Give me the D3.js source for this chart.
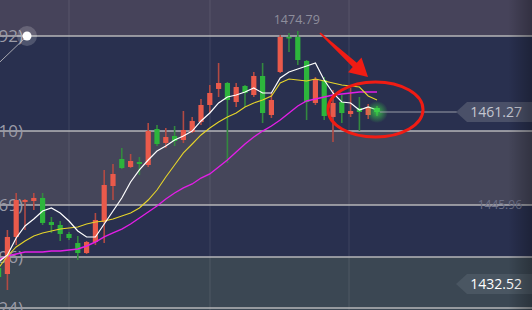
<!DOCTYPE html>
<html><head><meta charset="utf-8">
<script src="https://cdn.jsdelivr.net/npm/d3@7"></script>
<style>html,body{margin:0;padding:0;background:#29304f;overflow:hidden}svg{display:block}</style>
</head><body>
<svg id="c" width="532" height="310"></svg>
<script>
// ---- data (prices) ----
const opens  = [1435.19,1434.19,1440.38,1446.23,1446.39,1446.90,1442.88,1442.38,1440.88,1439.37,1437.70,1439.54,1442.88,1448.90,1453.41,1452.08,1452.91,1452.41,1458.43,1456.09,1457.26,1456.59,1457.93,1459.60,1462.44,1465.12,1466.12,1462.94,1465.62,1464.11,1467.29,1460.77,1467.96,1473.81,1473.81,1469.80,1462.78,1466.62,1460.43,1462.94,1460.94,1461.94,1460.77,1461.94];
const highs  = [1441.55,1441.55,1447.73,1446.73,1447.73,1447.73,1443.72,1443.05,1441.21,1440.54,1439.71,1444.39,1451.58,1452.58,1455.25,1454.25,1453.75,1459.43,1459.10,1458.60,1458.93,1461.44,1460.43,1463.44,1465.78,1469.46,1466.29,1466.12,1465.78,1467.96,1469.46,1464.45,1474.14,1474.48,1474.79,1469.96,1467.12,1467.12,1464.95,1464.11,1465.28,1463.78,1462.61,1462.27];
const lows   = [1432.35,1431.52,1439.04,1441.55,1444.89,1442.38,1441.05,1439.71,1439.88,1436.53,1437.53,1439.04,1439.37,1446.56,1451.74,1451.91,1450.74,1452.08,1455.59,1455.25,1455.59,1456.09,1457.76,1459.10,1461.10,1463.78,1452.75,1462.11,1462.11,1463.78,1459.43,1460.27,1467.79,1471.30,1469.13,1459.93,1462.44,1459.93,1456.26,1459.43,1460.43,1458.09,1460.10,1460.60];
const closes = [1433.69,1440.38,1446.56,1446.56,1446.90,1442.72,1442.38,1440.88,1440.21,1437.70,1439.54,1443.22,1449.07,1450.91,1451.91,1453.08,1452.58,1458.09,1455.92,1457.09,1456.42,1458.26,1459.77,1462.44,1464.45,1466.12,1463.28,1465.45,1464.45,1467.29,1461.10,1463.28,1473.81,1473.64,1469.96,1462.94,1466.79,1460.60,1462.78,1461.10,1461.44,1461.27,1462.11,1461.27];
const ma5  = [1436.20,1437.37,1440.21,1442.22,1443.39,1444.72,1445.22,1444.39,1443.05,1441.38,1440.38,1440.38,1442.55,1444.72,1446.90,1449.57,1451.58,1453.25,1454.75,1455.59,1456.59,1457.26,1458.09,1459.77,1461.10,1462.78,1463.78,1464.11,1464.61,1465.28,1464.45,1464.45,1466.95,1467.96,1468.46,1468.96,1469.46,1466.62,1464.45,1462.94,1462.78,1461.60,1462.11,1461.60];
const ma10 = [1435.20,1437.20,1438.71,1439.71,1440.54,1441.05,1441.38,1441.71,1441.88,1442.05,1442.55,1442.88,1443.05,1443.39,1443.89,1444.39,1445.22,1446.56,1448.23,1450.41,1452.41,1454.42,1455.92,1457.43,1458.60,1459.60,1460.43,1461.10,1462.11,1462.78,1463.28,1463.95,1466.12,1466.79,1466.62,1466.45,1466.79,1466.45,1466.12,1465.78,1465.62,1465.45,1463.95,1463.28];
const ma20 = [1436.53,1437.20,1437.53,1437.87,1437.87,1437.87,1438.04,1438.04,1438.20,1438.37,1438.87,1439.54,1440.38,1441.05,1441.71,1442.55,1443.55,1444.56,1445.56,1446.73,1447.73,1448.57,1449.24,1450.24,1450.91,1452.08,1453.25,1454.58,1455.92,1457.09,1458.09,1458.93,1459.93,1461.10,1462.27,1463.11,1463.44,1463.78,1464.11,1464.28,1464.45,1464.61,1464.61,1464.61];
const gridLevels = [1473.97, 1458.09, 1445.72, 1437.03, 1428.51];
const leftLabels = ["92)", "10)", "69)", "96)", "24)"];
const lastPrice = 1461.27, lowTag = 1432.52, midLabel = 1445.96, highLabel = 1474.79, highIndex = 34;
const vGridIdx = [8, 24.02, 39.82];

// ---- scales ----
const W = 532, H = 310;
const n = opens.length;
const x = d3.scaleLinear().domain([0, n - 1]).range([-1.4, 377]);
const y = d3.scaleLinear().domain([lowTag, lastPrice]).range([284, 112]);
const svg = d3.select("#c");
const defs = svg.append("defs");

// background bands
const bandColors = ["#46435a", "#29304f", "#45465a", "#29304f", "#3b4753"];
const edges = [-1e9, ...gridLevels];
bandColors.forEach((c, k) => {
  const top = k === 0 ? 0 : y(gridLevels[k - 1]);
  const bot = k < gridLevels.length ? y(gridLevels[k]) : H;
  svg.append("rect").attr("x", 0).attr("y", top).attr("width", W).attr("height", Math.max(0, (k === 4 ? H : bot) - top)).attr("fill", c);
});
svg.append("rect").attr("x", 0).attr("y", y(gridLevels[4])).attr("width", W).attr("height", H).attr("fill", "#3b4753");

// vertical grid
svg.selectAll(".vg").data(vGridIdx).enter().append("line")
  .attr("x1", d => x(d)).attr("x2", d => x(d)).attr("y1", 0).attr("y2", H)
  .attr("stroke", "rgba(255,255,255,0.10)").attr("stroke-width", 1);

// horizontal grid lines
svg.selectAll(".hg").data(gridLevels).enter().append("line")
  .attr("x1", 0).attr("x2", W).attr("y1", d => y(d)).attr("y2", d => y(d))
  .attr("stroke", "#b6b6b8").attr("stroke-width", 1.4);

// left labels
svg.selectAll(".ll").data(gridLevels).enter().append("text")
  .attr("x", 23).attr("y", d => y(d)).attr("dy", "0.36em").attr("text-anchor", "end")
  .attr("font-family", "Open Sans, DejaVu Sans, sans-serif").attr("font-size", 17)
  .attr("fill", "#9a9aa6").text((d, i) => leftLabels[i]);

// trend line tool + dot
svg.append("line").attr("x1", x(-0.98)).attr("y1", y(1468.04)).attr("x2", x(3.23)).attr("y2", y(1473.97))
  .attr("stroke", "#a8a8b0").attr("stroke-width", 1);
svg.append("circle").attr("cx", x(3.23)).attr("cy", y(1473.97)).attr("r", 10).attr("fill", "rgba(255,255,255,0.18)");
svg.append("circle").attr("cx", x(3.23)).attr("cy", y(1473.97)).attr("r", 4.5).attr("fill", "#ffffff");

// labels
svg.append("text").attr("x", x(highIndex) - 1).attr("y", y(highLabel) - 7).attr("text-anchor", "middle")
  .attr("font-family", "Open Sans, sans-serif").attr("font-size", 12.5).attr("fill", "#8e8e9c").text(highLabel.toFixed(2));
svg.append("text").attr("x", 522).attr("y", y(midLabel) + 1).attr("dy", "0.36em").attr("text-anchor", "end")
  .attr("font-family", "Open Sans, sans-serif").attr("font-size", 12).attr("fill", "#6c7088").text(midLabel.toFixed(2));

// candles
const idx = d3.range(n);
const up = i => closes[i] >= opens[i];
svg.selectAll(".wick").data(idx).enter().append("line")
  .attr("x1", i => x(i)).attr("x2", i => x(i))
  .attr("y1", i => y(highs[i])).attr("y2", i => y(lows[i]))
  .attr("stroke", i => up(i) ? "#b24a43" : "#33893f").attr("stroke-width", 1.6);
svg.selectAll(".body").data(idx).enter().append("rect")
  .attr("x", i => x(i) - 2.6).attr("width", 5.2)
  .attr("y", i => y(Math.max(opens[i], closes[i])))
  .attr("height", i => Math.max(1.5, Math.abs(y(opens[i]) - y(closes[i]))))
  .attr("fill", i => up(i) ? "#ea5a4b" : "#2db53c");

// MA lines
const line = arr => d3.line().x((d, i) => x(i)).y(d => y(d))(arr);
svg.append("path").attr("d", line(ma20)).attr("fill", "none").attr("stroke", "#e21ee6").attr("stroke-width", 1.4);
svg.append("path").attr("d", line(ma10)).attr("fill", "none").attr("stroke", "#e6d52a").attr("stroke-width", 1.1);
svg.append("path").attr("d", line(ma5)).attr("fill", "none").attr("stroke", "#ffffff").attr("stroke-width", 1.2);

// glow at last candle
const g = defs.append("radialGradient").attr("id", "glow");
g.append("stop").attr("offset", "0%").attr("stop-color", "rgba(60,230,70,0.75)");
g.append("stop").attr("offset", "100%").attr("stop-color", "rgba(60,230,70,0)");
svg.append("circle").attr("cx", x(n - 1)).attr("cy", y(closes[n - 1])).attr("r", 11).attr("fill", "url(#glow)");
svg.append("rect").attr("x", x(n - 1) - 2.6).attr("width", 5.2).attr("y", y(opens[n - 1])).attr("height", y(closes[n - 1]) - y(opens[n - 1])).attr("fill", "#3ad048");

// last price line
svg.append("line").attr("x1", x(n - 1) + 3).attr("x2", 457).attr("y1", y(lastPrice)).attr("y2", y(lastPrice))
  .attr("stroke", "#9a9ca8").attr("stroke-width", 1);

// price tags
function tag(price, fill, color) {
  const cy = y(price);
  svg.append("path").attr("d", `M${456},${cy} L${467},${cy - 10} L${W},${cy - 10} L${W},${cy + 10} L${467},${cy + 10} Z`).attr("fill", fill);
  svg.append("text").attr("x", 522).attr("y", cy).attr("dy", "0.36em").attr("text-anchor", "end")
    .attr("font-family", "Open Sans, sans-serif").attr("font-size", 14).attr("fill", color).text(price.toFixed(2));
}
tag(lastPrice, "#4a5068", "#c4c6d0");
tag(lowTag, "#4a5662", "#ffffff");

// right-edge vignette
const vg = defs.append("linearGradient").attr("id", "vig").attr("x1", "0").attr("x2", "1");
vg.append("stop").attr("offset", "0%").attr("stop-color", "rgba(0,0,0,0)");
vg.append("stop").attr("offset", "100%").attr("stop-color", "rgba(0,0,0,0.28)");
svg.append("rect").attr("x", 508).attr("y", 0).attr("width", 24).attr("height", H).attr("fill", "url(#vig)");

// annotations: red ellipse and arrow
const ell = { i: 42.83, p: 1461.69, rx: 47.5, ry: 27.5 };
svg.append("ellipse").attr("cx", x(ell.i)).attr("cy", y(ell.p)).attr("rx", ell.rx).attr("ry", ell.ry)
  .attr("fill", "none").attr("stroke", "#f01c14").attr("stroke-width", 3);
const tail = [x(36.52), y(1474.47)], tip = [x(41.98), y(1467.12)];
const dx = tip[0] - tail[0], dy = tip[1] - tail[1], L = Math.hypot(dx, dy);
const ux = dx / L, uy = dy / L, px = -uy, py = ux;
const hb = [tip[0] - ux * 18, tip[1] - uy * 18];
const pts = [
  [tail[0] + px * 0.8, tail[1] + py * 0.8],
  [hb[0] + px * 3, hb[1] + py * 3],
  [hb[0] + px * 10, hb[1] + py * 10],
  tip,
  [hb[0] - px * 10, hb[1] - py * 10],
  [hb[0] - px * 3, hb[1] - py * 3],
  [tail[0] - px * 0.8, tail[1] - py * 0.8]
];
svg.append("polygon").attr("points", pts.map(p => p.join(",")).join(" ")).attr("fill", "#f01c14");
</script>
</body></html>
